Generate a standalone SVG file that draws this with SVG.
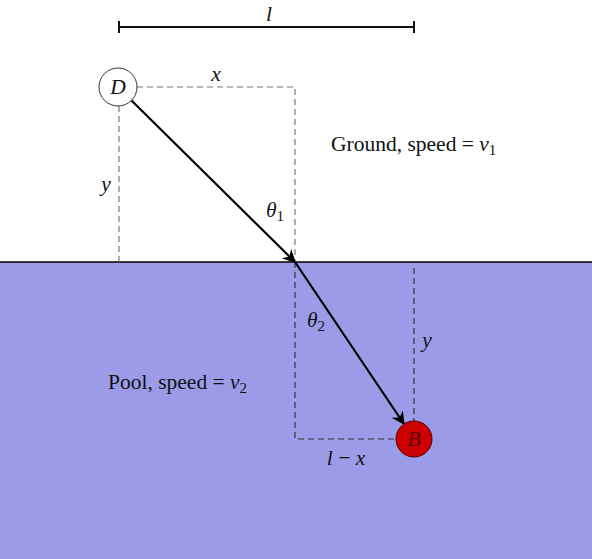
<svg xmlns="http://www.w3.org/2000/svg" width="592" height="559" viewBox="0 0 592 559">
<style>
.t{font-family:"Liberation Serif","DejaVu Serif",serif;font-size:21.5px;fill:#111}
.i{font-style:italic}
.s{font-size:15px}
.d{fill:none;stroke:#777;stroke-width:1.2;stroke-dasharray:6,4}
.dd{fill:none;stroke:#333;stroke-width:1.2;stroke-dasharray:6,4}
.a{fill:none;stroke:#000;stroke-width:2.2;marker-end:url(#ah)}
</style>
<defs>
<marker id="ah" viewBox="0 0 10 10" refX="9" refY="5" markerWidth="6" markerHeight="6" orient="auto" markerUnits="strokeWidth">
<path d="M0,0 L10,5 L0,10 L3,5 Z" fill="#000"/>
</marker>
</defs>
<rect x="0" y="0" width="592" height="559" fill="#fff"/>
<g id="pool">
<rect x="0" y="262" width="592" height="297" fill="#9b9be7"/>
<line x1="0" y1="262" x2="592" y2="262" stroke="#000" stroke-width="1.3"/>
</g>
<g id="scale">
<line x1="119" y1="27" x2="414" y2="27" stroke="#111" stroke-width="2"/>
<line x1="119" y1="21" x2="119" y2="33" stroke="#111" stroke-width="2"/>
<line x1="414" y1="21" x2="414" y2="33" stroke="#111" stroke-width="2"/>
<text class="t i" x="269" y="21" text-anchor="middle">l</text>
</g>
<g id="connectors">
<path class="d" d="M137,87 H295 V262"/>
<path class="d" d="M119,106 V262"/>
<path class="dd" d="M295,262 V439 H396"/>
<path class="dd" d="M414,268 V421"/>
<line class="a" x1="131" y1="100" x2="295" y2="262"/>
<line class="a" x1="295" y1="262" x2="404" y2="424"/>
</g>
<g id="D">
<circle cx="118" cy="87" r="19" fill="#fff" stroke="#333" stroke-width="1"/>
<text class="t i" x="118" y="94" text-anchor="middle">D</text>
</g>
<g id="B">
<circle cx="414" cy="439" r="18" fill="#cc0000" stroke="#550000" stroke-width="1"/>
<text class="t i" x="414" y="446" text-anchor="middle" style="fill:#5a0000">B</text>
</g>
<g id="labels">
<text class="t i" x="216" y="81" text-anchor="middle">x</text>
<text class="t i" x="106" y="191" text-anchor="middle">y</text>
<text class="t" x="275" y="217" text-anchor="middle"><tspan class="i">θ</tspan><tspan class="s" dy="4">1</tspan></text>
<text class="t" x="316" y="327" text-anchor="middle"><tspan class="i">θ</tspan><tspan class="s" dy="4">2</tspan></text>
<text class="t i" x="427" y="347" text-anchor="middle">y</text>
<text class="t" x="346" y="465" text-anchor="middle"><tspan class="i">l</tspan> − <tspan class="i">x</tspan></text>
<text class="t" x="331" y="151">Ground, speed = <tspan class="i">v</tspan><tspan class="s" dy="4">1</tspan></text>
<text class="t" x="108" y="389">Pool, speed = <tspan class="i">v</tspan><tspan class="s" dy="4">2</tspan></text>
</g>
</svg>
